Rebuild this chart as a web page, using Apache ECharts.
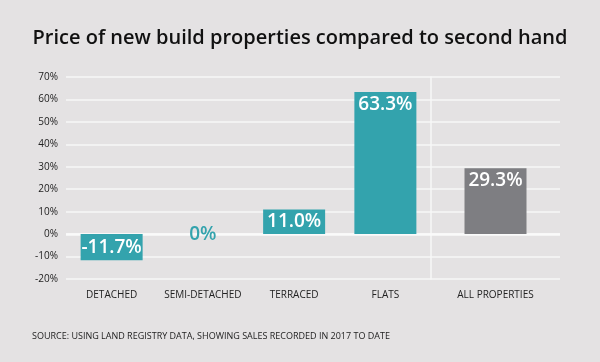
<!DOCTYPE html>
<html><head><meta charset="utf-8">
<script src="https://cdn.jsdelivr.net/npm/echarts@6/dist/echarts.min.js"></script>
<style>html,body{margin:0;padding:0;background:#e4e2e3;}#c{width:600px;height:362px;}</style>
</head><body><div id="c"></div>
<script>
const title = 'Price of new build properties compared to second hand';
const source = 'SOURCE: USING LAND REGISTRY DATA, SHOWING SALES RECORDED IN 2017 TO DATE';
const typeCategories = ['DETACHED', 'SEMI-DETACHED', 'TERRACED', 'FLATS'];
const typeValues = [-11.7, 0, 11.0, 63.3];
const typeLabels = ['-11.7%', '0%', '11.0%', '63.3%'];
const allCategories = ['ALL PROPERTIES'];
const allValues = [29.3];
const allLabels = ['29.3%'];
const yMin = -20, yMax = 70, yStep = 10;

const teal = '#33a3ad', grey = '#7e7e82';
const font = "'Open Sans', sans-serif";
const chart = echarts.init(document.getElementById('c'), null, {renderer: 'canvas'});

function yAxis(gridIndex, show) {
  return {
    type: 'value', gridIndex, min: yMin, max: yMax, interval: yStep,
    axisLine: {show: false}, axisTick: {show: false},
    axisLabel: {show: show, formatter: v => v + '%', color: '#222', fontFamily: font, fontSize: 10, margin: 8},
    splitLine: {lineStyle: {color: '#f7f7f7', width: 1.5}}
  };
}
function xAxis(gridIndex, cats) {
  return {
    type: 'category', gridIndex, data: cats, position: 'bottom',
    axisLine: {show: false}, axisTick: {show: false},
    axisLabel: {color: '#222', fontFamily: font, fontSize: 10, margin: 11, interval: 0}
  };
}
const labelBase = {show: true, fontFamily: font, fontWeight: 600, fontSize: 19, color: '#fff'};
function zeroLineSeries(idx) {
  return {type: 'line', xAxisIndex: idx, yAxisIndex: idx, data: [], z: 1, silent: true,
    markLine: {silent: true, symbol: 'none', label: {show: false}, z: 1,
      lineStyle: {color: '#fafafa', width: 2.5, type: 'solid'}, data: [{yAxis: 0}]}};
}

chart.setOption({
  backgroundColor: '#e4e2e3',
  animation: false,
  title: [
    {text: title, left: 'center', top: 23, textStyle: {fontFamily: font, fontWeight: 600, fontSize: 20, color: '#111'}},
    {text: source, left: 32, top: 332, padding: 0, textStyle: {fontFamily: font, fontWeight: 'normal', fontSize: 9, color: '#222'}}
  ],
  grid: [
    {left: 66, width: 365, top: 77, bottom: 83},
    {left: 431, width: 129, top: 77, bottom: 83}
  ],
  xAxis: [xAxis(0, typeCategories), xAxis(1, allCategories)],
  yAxis: [yAxis(0, true), Object.assign(yAxis(1, false), {
    axisLine: {show: true, onZero: false, lineStyle: {color: '#f7f7f7', width: 1.5}}
  })],
  series: [
    zeroLineSeries(0),
    zeroLineSeries(1),
    {
      type: 'bar', xAxisIndex: 0, yAxisIndex: 0, barWidth: 62, z: 3,
      data: typeValues.map((v, i) => ({
        value: v,
        itemStyle: {color: teal},
        label: Object.assign({}, labelBase, {
          formatter: typeLabels[i],
          position: v <= 0 ? 'inside' : 'insideTop',
          distance: 3,
          color: v === 0 ? teal : '#fff'
        })
      }))
    },
    {
      type: 'bar', xAxisIndex: 1, yAxisIndex: 1, barWidth: 62, z: 3,
      data: allValues.map((v, i) => ({
        value: v,
        itemStyle: {color: grey},
        label: Object.assign({}, labelBase, {formatter: allLabels[i], position: 'insideTop', distance: 3})
      }))
    }
  ]
});
</script></body></html>
